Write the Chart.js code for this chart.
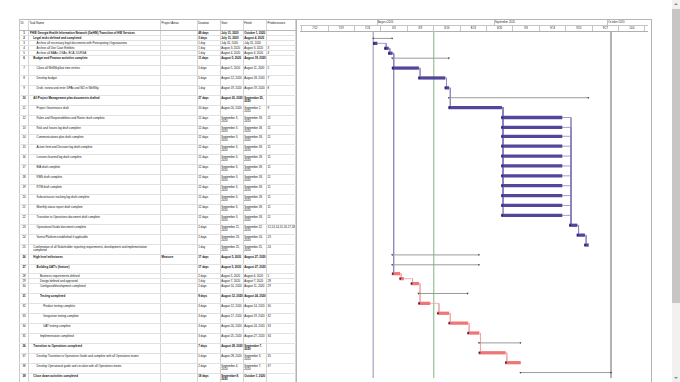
<!DOCTYPE html>
<html>
<head>
<meta charset="utf-8">
<script src="https://cdn.jsdelivr.net/npm/chart.js@4.4.1/dist/chart.umd.min.js"></script>
<style>
  html, body { margin: 0; padding: 0; background: #fff; }
  body { width: 680px; height: 382px; overflow: hidden; position: relative; font-family: "Liberation Sans", Arial, sans-serif; color: #111; }
  #sheet { position: absolute; left: 19px; top: 19px; width: 277px; height: 363px; overflow: hidden; }
  .row { position: absolute; left: 0; width: 277px; box-sizing: border-box; border-bottom: 1px solid #e2e2e2; }
  .cell { position: absolute; top: 0; bottom: 0; box-sizing: border-box; border-right: 1px solid #d4d4d4; font-size: 2.9px; line-height: 3.3px; overflow: hidden; padding: 0.8px 0.6px 0 0.6px; }
  .cell.first { border-left: 1px solid #c8c8c8; text-align: center; }
  .cell.date { padding-left: 0.3px; padding-right: 0.2px; letter-spacing: -0.05px; }
  .cell.nowrap { white-space: nowrap; }
  .hdr .cell { padding-top: 1.6px; white-space: nowrap; text-align: left; }
  .hdr { border-bottom: 1px solid #b8b8b8; border-top: 1px solid #b8b8b8; }
  .bold { font-weight: bold; }
  #gantt { position: absolute; left: 296px; top: 19px; width: 355px; height: 363px; }
  #frame { position: absolute; left: 296px; top: 19px; width: 356px; height: 364px; box-sizing: border-box; border: 1px solid #b4b4b4; pointer-events: none; }
  #track { position: absolute; left: 672px; top: 0; width: 8px; height: 382px; background: #f1f1f1; }
  #thumb { position: absolute; left: 672px; top: 9px; width: 8px; height: 294px; background: #c6c6c6; }
  .arrow { position: absolute; left: 674px; width: 0; height: 0; border-left: 2px solid transparent; border-right: 2px solid transparent; }
  #up { top: 3px; border-bottom: 2px solid #8a8a8a; }
  #down { top: 377px; border-top: 2px solid #8a8a8a; }
</style>
</head>
<body>
<div id="sheet"></div>
<div id="gantt"><canvas id="ganttChart" width="355" height="363"></canvas></div>
<div id="frame"></div>
<div id="track"></div><div id="thumb"></div>
<div class="arrow" id="up"></div><div class="arrow" id="down"></div>
<script>
// --- DATOS DE LAS TAREAS ---
const columnTitles = ['ID', 'Task Name', 'Project Areas', 'Duration', 'Start', 'Finish', 'Predecessors'];

const taskIds = [1, 2, 3, 4, 5, 6, 7, 8, 9, 10, 11, 12, 13, 14, 15, 16, 17, 18, 19, 20,
  21, 22, 23, 24, 25, 26, 27, 28, 29, 30, 31, 32, 33, 34, 35, 36, 37, 38, 39];

const taskNames = [
  'FHIE Georgia Health Information Network (GaHIN) Transition of HIE Services',
  'Legal tasks defined and completed',
  'Archive all necessary legal documents with Participating Organizations',
  'Archive all Use Case Exhibits',
  'Archive all BAAs, DSAs, BCA, DURSA',
  'Budget and Finance activities complete',
  'Close all WellSky/last time entries',
  'Develop budget',
  'Draft, review and enter DPAs and W2 in WellSky',
  'All Project Management plan documents drafted',
  'Project Governance draft',
  'Roles and Responsibilities and Roster draft complete',
  'Risk and Issues log draft complete',
  'Communications plan draft complete',
  'Action Item and Decision log draft complete',
  'Lessons learned log draft complete',
  'BIA draft complete',
  'RMS draft complete',
  'RTM draft complete',
  'Subcontractor tracking log draft complete',
  'Monthly status report draft complete',
  'Transition to Operations document draft complete',
  'Operational Guide document complete',
  'Vanno Platform established if applicable',
  'Confirmation of all Stakeholder reporting requirements, development and implementation completed',
  'High level milestones',
  'Building UAT\'s (feature)',
  'Business requirements defined',
  'Design defined and approved',
  'Configured/development completed',
  'Testing completed',
  'Product testing complete',
  'Integration testing complete',
  'UAT testing complete',
  'Implementation completed',
  'Transition to Operations completed',
  'Develop Transition to Operations Guide and complete with all Operations teams',
  'Develop Operational guide and circulate with all Operations teams',
  'Close down activities completed'
];

const projectAreas = ['', '', '', '', '', '', '', '', '', '', '', '', '', '', '', '', '', '', '', '',
  '', '', '', '', '', 'Measure', '', '', '', '', '', '', '', '', '', '', '', '', ''];

const durations = ['49 days', '3 days', '1 day', '1 day', '1 day', '11 days', '5 days', '5 days', '1 day',
  '27 days', '10 days', '12 days', '12 days', '12 days', '12 days', '12 days', '12 days', '12 days',
  '12 days', '12 days', '12 days', '12 days', '2 days', '2 days', '1 day', '17 days', '17 days',
  '2 days', '1 day', '2 days', '9 days', '3 days', '3 days', '3 days', '3 days', '7 days', '5 days',
  '2 days', '18 days'];

const startDates = ['July 31, 2020', 'July 31, 2020', 'July 31, 2020', 'August 3, 2020', 'August 4, 2020',
  'August 5, 2020', 'August 5, 2020', 'August 12, 2020', 'August 19, 2020', 'August 20, 2020',
  'August 20, 2020', 'September 3, 2020', 'September 3, 2020', 'September 3, 2020', 'September 3, 2020',
  'September 3, 2020', 'September 3, 2020', 'September 3, 2020', 'September 3, 2020', 'September 3, 2020',
  'September 3, 2020', 'September 3, 2020', 'September 21, 2020', 'September 23, 2020', 'September 25, 2020',
  'August 5, 2020', 'August 5, 2020', 'August 5, 2020', 'August 7, 2020', 'August 10, 2020',
  'August 12, 2020', 'August 12, 2020', 'August 17, 2020', 'August 20, 2020', 'August 25, 2020',
  'August 28, 2020', 'August 28, 2020', 'September 4, 2020', 'September 8, 2020'];

const finishDates = ['October 1, 2020', 'August 4, 2020', 'July 31, 2020', 'August 3, 2020', 'August 4, 2020',
  'August 19, 2020', 'August 11, 2020', 'August 18, 2020', 'August 19, 2020', 'September 25, 2020',
  'September 2, 2020', 'September 18, 2020', 'September 18, 2020', 'September 18, 2020', 'September 18, 2020',
  'September 18, 2020', 'September 18, 2020', 'September 18, 2020', 'September 18, 2020', 'September 18, 2020',
  'September 18, 2020', 'September 18, 2020', 'September 22, 2020', 'September 24, 2020', 'September 25, 2020',
  'August 27, 2020', 'August 27, 2020', 'August 6, 2020', 'August 7, 2020', 'August 11, 2020',
  'August 24, 2020', 'August 14, 2020', 'August 19, 2020', 'August 24, 2020', 'August 27, 2020',
  'September 7, 2020', 'September 3, 2020', 'September 7, 2020', 'October 1, 2020'];

const predecessors = ['', '', '', '3', '4', '', '5', '7', '8', '', '9', '11', '11', '11', '11', '11', '11',
  '11', '11', '11', '11', '11', '12,13,14,15,16,17,18,19,20,21,22', '23', '24', '', '', '5', '28', '29',
  '', '30', '32', '33', '34', '', '35', '37', ''];

const outlineLevels = [0, 1, 2, 2, 2, 1, 2, 2, 2, 1, 2, 2, 2, 2, 2, 2, 2, 2, 2, 2, 2, 2, 2, 2, 1,
  1, 2, 3, 3, 3, 3, 4, 4, 4, 3, 1, 2, 2, 1];

const summaryTasks = [1, 2, 6, 10, 26, 27, 31, 36, 39];
const criticalTasks = [28, 29, 30, 32, 33, 34, 35, 37, 38];

// --- ESCALA DE TIEMPO ---
const weekLabels = ['7/12', '7/19', '7/26', '8/2', '8/9', '8/16', '8/23', '8/30', '9/6', '9/13', '9/20', '9/27', '10/4'];
const monthLabels = ['August 2020', 'September 2020', 'October 2020'];
const monthStarts = ['August 1, 2020', 'September 1, 2020', 'October 1, 2020'];
const projectStart = 'July 31, 2020';
const statusDate = 'August 16, 2020';
const projectFinish = 'October 2, 2020';

// --- LAYOUT (alto de filas en px) ---
const headerHeight = 12;
const rowPitch = [5, 5, 5, 5, 5,
  9.93, 9.93, 9.93, 9.93, 9.93, 9.93, 9.93, 9.93, 9.93, 9.93, 9.93, 9.93, 9.93, 9.93, 9.93, 9.93, 9.93, 9.93, 9.93, 9.93, 9.93, 9.93,
  5, 5,
  9.93, 9.93, 9.93, 9.93, 9.93, 9.93, 9.93, 9.93, 9.93, 9.93];
const barOffset = 2.5; // la barra va en la primera linea de la fila
const colEdges = [0, 10, 142, 179, 202, 225, 248, 277];
const bodyHeight = 363 - headerHeight;
const fontFamily = '"Liberation Sans", Arial, sans-serif';

// filas en pixeles enteros para que el texto no se corte
const rowTops = [];
const rowHeights = [];
let acc = 0;
rowPitch.forEach(h => { rowTops.push(Math.round(acc)); acc += h; });
rowTops.forEach((t, i) => rowHeights.push((i + 1 < rowTops.length ? rowTops[i + 1] : Math.round(acc)) - t));
const rowY = i => rowTops[i] + barOffset;

const dayMs = 86400000;
const origin = new Date(projectStart).getTime();
const toDay = s => Math.round((new Date(s).getTime() - origin) / dayMs);

// --- TABLA ---
const sheet = document.getElementById('sheet');

function addRow(values, top, height, cls, level, bold) {
  const row = document.createElement('div');
  row.className = 'row ' + cls;
  row.style.top = top + 'px';
  row.style.height = height + 'px';
  values.forEach((v, c) => {
    const cell = document.createElement('div');
    let name = 'cell';
    if (c === 0) name += ' first';
    if (c >= 3 && c <= 5) name += ' date';
    if (c === 6 || height < 8) name += ' nowrap';
    if (bold) name += ' bold';
    cell.className = name;
    cell.style.left = colEdges[c] + 'px';
    cell.style.width = (colEdges[c + 1] - colEdges[c]) + 'px';
    if (c === 1 && level !== null) cell.style.paddingLeft = (1 + level * 3.3) + 'px';
    cell.textContent = v;
    row.appendChild(cell);
  });
  sheet.appendChild(row);
}

addRow(columnTitles, 0, headerHeight, 'hdr', null, false);
taskIds.forEach((id, i) => {
  addRow([id, taskNames[i], projectAreas[i], durations[i], startDates[i], finishDates[i], predecessors[i]],
    headerHeight + rowTops[i], rowHeights[i], '', outlineLevels[i], summaryTasks.includes(id));
});

// --- DATASETS DEL GANTT ---
const taskBars = [];
const taskColors = [];
const startMarks = [];
const datasets = [];

taskIds.forEach((id, i) => {
  if (summaryTasks.includes(id)) return;
  const s = toDay(startDates[i]);
  const f = toDay(finishDates[i]) + 1;
  taskBars.push({ x: [s, f], y: rowY(i) });
  taskColors.push(criticalTasks.includes(id) ? '#ef7676' : '#54469a');
  startMarks.push({ x: s + 0.15, y: rowY(i) });
});

// lineas verticales: inicio, fecha de estado, fin
[[projectStart, '#b4b4cc'], [statusDate, '#a9c9a9'], [projectFinish, '#a8a8a8']].forEach(([d, color]) => {
  datasets.push({
    type: 'line',
    data: [{ x: toDay(d), y: 0 }, { x: toDay(d), y: bodyHeight }],
    borderColor: color, borderWidth: 1, pointRadius: 0, fill: false, order: 5
  });
});

// conectores de predecesoras
predecessors.forEach((p, i) => {
  if (!p) return;
  p.split(',').forEach(ps => {
    const j = taskIds.indexOf(Number(ps));
    const crit = criticalTasks.includes(taskIds[i]) && criticalTasks.includes(taskIds[j]);
    const x0 = toDay(finishDates[j]) + 1;
    const x1 = toDay(startDates[i]) + 0.4;
    datasets.push({
      type: 'line',
      data: [{ x: x0, y: rowY(j) }, { x: x1, y: rowY(j) }, { x: x1, y: rowY(i) - 1.5 }],
      borderColor: crit ? '#f3a3a3' : '#8c86bf', borderWidth: 0.8, pointRadius: 0, fill: false, order: 4
    });
  });
});

// barras resumen (la fila 1 es el resumen del proyecto y no se dibuja)
taskIds.forEach((id, i) => {
  if (!summaryTasks.includes(id) || id === 1) return;
  const s = toDay(startDates[i]);
  const f = toDay(finishDates[i]) + 1;
  datasets.push({
    type: 'line',
    data: [{ x: s, y: rowY(i) }, { x: f, y: rowY(i) }],
    borderColor: '#9a9a9a', borderWidth: 1, fill: false, order: 3,
    pointStyle: 'triangle', pointRotation: 180, pointRadius: 1.2,
    pointBackgroundColor: '#3c3c3c', pointBorderWidth: 0
  });
});

datasets.push({
  type: 'line',
  data: startMarks,
  showLine: false, pointStyle: 'rect', pointRadius: 1.2,
  pointBackgroundColor: '#2a2258', pointBorderWidth: 0, order: 1
});

datasets.push({
  type: 'bar',
  indexAxis: 'y',
  data: taskBars,
  backgroundColor: taskColors,
  borderWidth: 0,
  barThickness: 2.6,
  order: 2
});

const weekMids = weekLabels.map(w => {
  const [m, d] = w.split('/').map(Number);
  return toDay(`${m}/${d}/2020`) + 3.5;
});
const monthDays = monthStarts.map(toDay);

const xMin = -19.43;
const xMax = 72.54;

const flatAxis = ax => { ax.height = headerHeight / 2; ax.paddingLeft = 0; ax.paddingRight = 0; };

new Chart(document.getElementById('ganttChart'), {
  type: 'bar',
  data: { datasets },
  options: {
    responsive: false,
    animation: false,
    events: [],
    layout: { padding: 0 },
    plugins: { legend: { display: false }, tooltip: { enabled: false } },
    scales: {
      x: {
        type: 'linear', position: 'top', min: xMin, max: xMax, bounds: 'data', offset: false, weight: 0,
        afterBuildTicks: ax => { ax.ticks = weekMids.map(v => ({ value: v })); },
        afterFit: flatAxis,
        ticks: {
          autoSkip: false, maxRotation: 0, padding: -4.6, color: '#333',
          font: { size: 2.7, family: fontFamily },
          callback: (v, i) => weekLabels[i]
        },
        grid: { offset: true, drawOnChartArea: false, drawTicks: true, tickLength: 6, color: '#c4c4c4', lineWidth: 1 },
        border: { display: true, color: '#b0b0b0' }
      },
      xm: {
        type: 'linear', position: 'top', min: xMin, max: xMax, bounds: 'data', offset: false, weight: 1,
        afterBuildTicks: ax => { ax.ticks = monthDays.map(v => ({ value: v })); },
        afterFit: flatAxis,
        ticks: {
          autoSkip: false, maxRotation: 0, padding: -4.6, color: '#333', align: 'start', labelOffset: 1,
          font: { size: 2.7, family: fontFamily },
          callback: (v, i) => monthLabels[i]
        },
        grid: { offset: false, drawOnChartArea: false, drawTicks: true, tickLength: 6, color: '#c4c4c4', lineWidth: 1 },
        border: { display: true, color: '#c4c4c4' }
      },
      y: { type: 'linear', reverse: true, min: 0, max: bodyHeight, offset: false, display: false }
    }
  }
});
</script>
</body>
</html>
